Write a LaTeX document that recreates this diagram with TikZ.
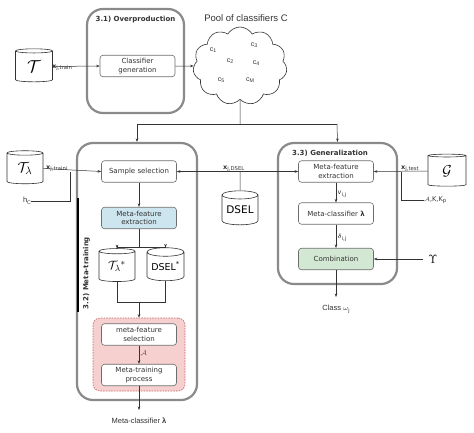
\documentclass[tikz,border=0pt]{standalone}
\usepackage{fontspec}
\usepackage{bm}
\usetikzlibrary{shapes.geometric,shapes.symbols,arrows.meta}
\newfontfamily\dvs{DejaVu Sans}
\newfontfamily\lib{Liberation Sans}
\newcommand\sbs[1]{\raisebox{-0.45ex}{\fontsize{5.3}{6}\selectfont #1}}
\definecolor{linec}{HTML}{333333}
\definecolor{outerc}{HTML}{8A8A8A}
\definecolor{boxc}{HTML}{6E6E6E}
\definecolor{bluef}{HTML}{CDE5EE}
\definecolor{pinkf}{HTML}{F6CFCF}
\definecolor{pinkd}{HTML}{C86464}
\definecolor{greenf}{HTML}{D3E8D2}
\tikzset{
  arr/.style={draw=linec, line width=0.5pt, -{Stealth[length=3.5pt,width=2.6pt]}},
  ln/.style={draw=linec, line width=0.5pt},
  outerbox/.style={draw=outerc, line width=2.2pt, rounded corners=16pt, inner sep=0pt},
  ibox/.style={draw=boxc, line width=0.6pt, rounded corners=3pt, fill=white, minimum width=75pt, minimum height=21.5pt, inner sep=0pt, align=center, font=\dvs\fontsize{7}{8.5}\selectfont, text=linec},
  cyl/.style={cylinder, shape border rotate=90, draw=linec, fill=white, aspect=0.3, minimum width=37pt, minimum height=33pt, inner sep=0pt, line width=0.6pt},
  ttl/.style={font=\dvs\bfseries\fontsize{7}{8}\selectfont, text=linec, inner sep=0pt},
  lbl/.style={font=\dvs\fontsize{6.5}{7}\selectfont, text=linec, inner sep=0pt},
  alb/.style={font=\lib\fontsize{7.5}{8}\selectfont, text=linec, inner sep=0pt}
}
\begin{document}
\begin{tikzpicture}[x=1pt,y=-1pt]
\useasboundingbox (0,0) rectangle (474,432);
% ---------- overproduction ----------
\node[outerbox, minimum width=97pt, minimum height=104pt] (op) at (135.5,61) {};
\node[ttl] (opt) at (135.5,20) {3.1) Overproduction};
\node[ibox] (cg) at (137.5,66) {Classifier\\generation};
\node[cyl] (T) at (34,66.5) {\fontsize{16}{16}\selectfont$\mathcal{T}$};
\node[lbl, anchor=south west] (xtr) at (52,71) {{\bfseries x}\sbs{j,train}};
\draw[arr] (T.east) -- (cg.west);
\node[cloud, cloud puffs=11, cloud puff arc=120, aspect=1.2, draw=linec, line width=0.6pt, minimum width=94pt, minimum height=78pt, inner sep=0pt] (pool) at (240,66) {};
\node[font=\lib\fontsize{9.5}{10}\selectfont, text=linec] (pl) at (246,18) {Pool of classifiers C};
\begin{scope}[font=\lib\fontsize{7}{7}\selectfont, text=linec]
\node (c1) at (213,50) {c\sbs{1}};
\node (c3) at (254,45) {c\sbs{3}};
\node (c2) at (230,61) {c\sbs{2}};
\node (c4) at (256,63) {c\sbs{4}};
\node (c5) at (221,80) {c\sbs{5}};
\node (cM) at (250,80) {c\sbs{M}};
\end{scope}
\draw[arr] (cg.east) -- (pool.west);
% junction
\coordinate (pj) at (240,124);
\coordinate (lj) at (137,124);
\coordinate (rj) at (337,124);
\draw[ln] (pool.south) -- (pj);
\draw[ln] (lj) -- (rj);
% ---------- meta-training ----------
\node[outerbox, minimum width=120pt, minimum height=257pt] (mt) at (137,271.5) {};
\draw[arr] (lj) -- (mt.north);
\coordinate (bl1) at (78,198);
\coordinate (bl2) at (78,312);
\draw[draw=black, line width=1.1pt] (bl1) -- (bl2);
\node[ttl, rotate=90] (mtt) at (86.5,273) {3.2) Meta-training};
\node[ibox] (ss) at (139,171.5) {Sample selection};
\node[cyl, minimum width=36pt] (Tl) at (25,168.5) {\fontsize{15}{15}\selectfont$\mathcal{T}_{\lambda}$};
\node[lbl, anchor=south west] (xti) at (46,172) {{\bfseries x}\sbs{j,traini}};
\draw[arr] (Tl.east) -- (ss.west);
\node[alb] (hc) at (27,201) {h\sbs{C}};
\coordinate (hj) at (70,171.5);
\draw[ln] (hc.east) -| (hj);
\node[ibox, fill=bluef] (mfe) at (139,218) {Meta-feature\\extraction};
\draw[arr] (ss.south) -- (mfe.north);
\coordinate (sp) at (139,247);
\draw[ln] (mfe.south) -- (sp);
\node[cyl, minimum width=36pt] (ts) at (117,266.5) {\fontsize{13}{13}\selectfont$\mathcal{T}_{\lambda}{}^{*}$};
\node[cyl, minimum width=37pt] (ds) at (165.5,266.5) {\dvs\fontsize{9.5}{10}\selectfont DSEL\textsuperscript{*}};
\draw[arr] (sp) -| (ts.north);
\draw[arr] (sp) -| (ds.north);
\coordinate (jn) at (139,302);
\draw[ln] (ts.south) |- (jn);
\draw[ln] (ds.south) |- (jn);
\node[draw=pinkd, dashed, dash pattern=on 1.5pt off 1.2pt, fill=pinkf, line width=0.6pt, rounded corners=7pt, minimum width=92pt, minimum height=73pt, inner sep=0pt] (pk) at (139,354.5) {};
\draw[arr] (jn) -- (pk.north);
\node[ibox] (mfs) at (139,334.5) {meta-feature\\selection};
\node[ibox] (mtp) at (139,375) {Meta-training\\process};
\draw[arr] (mfs.south) -- (mtp.north);
\node[anchor=west, inner sep=0pt, text=pinkd!60!black] (A1) at (140.5,353.5) {\fontsize{7}{7}\selectfont$\mathcal{A}$};
\coordinate (mo) at (139,410);
\draw[arr] (mtp.south) -- (mo);
\node[alb] (mcl) at (139,421) {Meta-classifier \textbf{λ}};
% ---------- DSEL ----------
\node[cyl, minimum width=36pt, minimum height=34pt] (D) at (240,210) {\dvs\fontsize{10.5}{11}\selectfont DSEL};
\node[lbl, anchor=south west] (xds) at (223,172) {{\bfseries x}\sbs{j,DSEL}};
\coordinate (dj) at (240,171.5);
\draw[ln] (D.north) -- (dj);
% ---------- generalization ----------
\node[outerbox, minimum width=119pt, minimum height=141pt] (gen) at (337.5,213.5) {};
\draw[arr] (rj) -- (gen.north);
\node[ttl] (gt) at (330,153.5) {3.3) Generalization};
\node[ibox] (mfg) at (336,171.5) {Meta-feature\\extraction};
\draw[arr] (dj) -- (ss.east);
\draw[arr] (dj) -- (mfg.west);
\node[cyl, minimum width=38pt, minimum height=32pt] (G) at (447,171) {\fontsize{15}{15}\selectfont$\mathcal{G}$};
\node[lbl, anchor=south west] (xte) at (401,172) {{\bfseries x}\sbs{j,test}};
\draw[arr] (G.west) -- (mfg.east);
\coordinate (gj) at (401,171.5);
\node[lbl, anchor=west] (akk) at (424,200) {$\mathcal{A}$,K,K\sbs{p}};
\draw[ln] (gj) |- (akk.west);
\node[ibox] (mc) at (336,213.5) {Meta-classifier \textbf{λ}};
\draw[arr] (mfg.south) -- (mc.north);
\node[lbl, anchor=west] (vij) at (337.5,194.5) {v\sbs{i,j}};
\node[ibox, fill=greenf] (cb) at (336,259) {Combination};
\draw[arr] (mc.south) -- (cb.north);
\node[lbl, anchor=west] (dij) at (337.5,238) {$\bm{\delta}$\sbs{i,j}};
\node[inner sep=0pt] (ups) at (433,259) {\fontsize{12}{12}\selectfont$\Upsilon$};
\coordinate (uw) at (423,259);
\draw[arr] (uw) -- (cb.east);
\coordinate (co) at (336,297);
\draw[arr] (cb.south) -- (co);
\node[alb] (cls) at (336,309) {Class $\omega$\sbs{j}};
\end{tikzpicture}
\end{document}
